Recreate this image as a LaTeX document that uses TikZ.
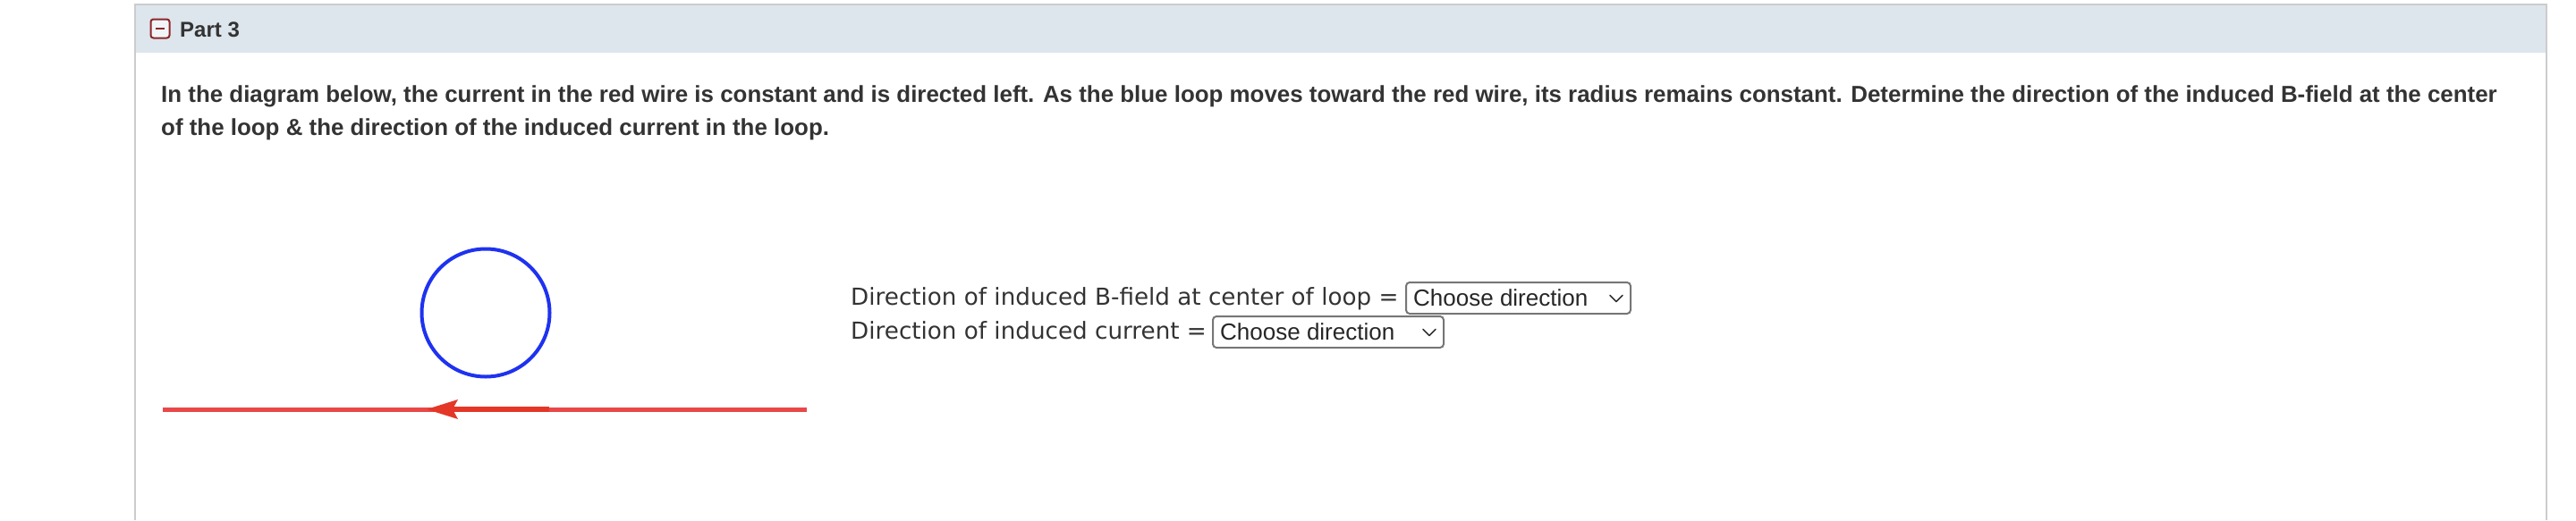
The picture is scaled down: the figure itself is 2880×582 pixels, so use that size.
\documentclass[tikz,border=0pt]{standalone}
\usepackage{fontspec}
\setmainfont{Liberation Sans}
\newfontfamily\verd{DejaVu Sans}
\definecolor{bandcol}{RGB}{221,229,237}
\definecolor{framecol}{RGB}{204,204,204}
\definecolor{txt}{RGB}{51,51,51}
\definecolor{iconred}{RGB}{140,40,40}
\definecolor{wirered}{RGB}{232,72,72}
\definecolor{arrred}{RGB}{228,55,40}
\definecolor{loopblue}{RGB}{30,50,240}
\definecolor{boxgray}{RGB}{118,118,118}
\tikzset{
  qtext/.style={anchor=base west, inner sep=0pt, text=txt, font=\fontsize{25.9}{30}\selectfont\bfseries},
  atext/.style={anchor=base west, inner sep=0pt, text=txt, font=\verd\fontsize{26.2}{30}\selectfont},
  dropbox/.style={draw=boxgray, line width=2pt, rounded corners=4pt, anchor=north west, inner sep=0pt,
     minimum height=35pt},
  droptext/.style={anchor=base west, inner sep=0pt, text=black!85, font=\fontsize{26}{30}\selectfont},
  chev/.style={draw=black!80, line width=1.6pt, line cap=round, line join=round}
}
\begin{document}
\begin{tikzpicture}[x=1pt,y=-1pt]
\useasboundingbox (0,0) rectangle (2880,582);
\fill[white] (0,0) rectangle (2880,582);
% frame
\fill[bandcol] (151,6) rectangle (2847,59);
\draw[framecol, line width=2.5pt] (151,582) -- (151,5) -- (2847,5) -- (2847,582);
% icon
\node[draw=iconred, line width=2pt, rounded corners=3pt, fill=bandcol!40, minimum size=21pt, inner sep=0pt] (icon) at (179,32) {};
\draw[iconred, line width=2.5pt] ([xshift=-5pt]icon.center) -- ([xshift=5pt]icon.center);
\node[anchor=base west, inner sep=0pt, text=txt, font=\fontsize{24}{28}\selectfont\bfseries] (part) at (201,41) {Part 3};
% question
\node[qtext] (q1) at (180,114) {In the diagram below, the current in the red wire is constant and is directed left. As the blue loop moves toward the red wire, its radius remains constant. Determine the direction of the induced B-field at the center};
\node[qtext] (q2) at (180,151) {of the loop \& the direction of the induced current in the loop.};
% loop
\node[draw=loopblue, line width=4pt, circle, minimum size=143pt, inner sep=0pt] (loop) at (543,350) {};
% wire
\coordinate (wL) at (182,458);
\coordinate (wR) at (902,458);
\coordinate (tip) at (477,458);
\coordinate (thk) at (614,458);
\draw[wirered, line width=5pt] (wL) -- (wR);
\draw[arrred, line width=6pt] ([xshift=20pt]tip) -- (thk);
\fill[arrred] (tip) -- ++(35,-11) -- ++(-6,11) -- ++(6,11) -- cycle;
% answers
\node[atext] (a1) at (951,341) {Direction of induced B-field at center of loop =};
\node[atext] (a2) at (951,379) {Direction of induced current =};
\node[dropbox, minimum width=251pt] (d1) at (1571,315) {};
\node[droptext] (d1t) at (1580,342) {Choose direction};
\draw[chev] ([xshift=-24pt,yshift=3pt]d1.east) -- ([xshift=-17pt,yshift=-4pt]d1.east) -- ([xshift=-10pt,yshift=3pt]d1.east);
\node[dropbox, minimum width=258pt] (d2) at (1355,353) {};
\node[droptext] (d2t) at (1364,380) {Choose direction};
\draw[chev] ([xshift=-24pt,yshift=3pt]d2.east) -- ([xshift=-17pt,yshift=-4pt]d2.east) -- ([xshift=-10pt,yshift=3pt]d2.east);
\end{tikzpicture}
\end{document}
